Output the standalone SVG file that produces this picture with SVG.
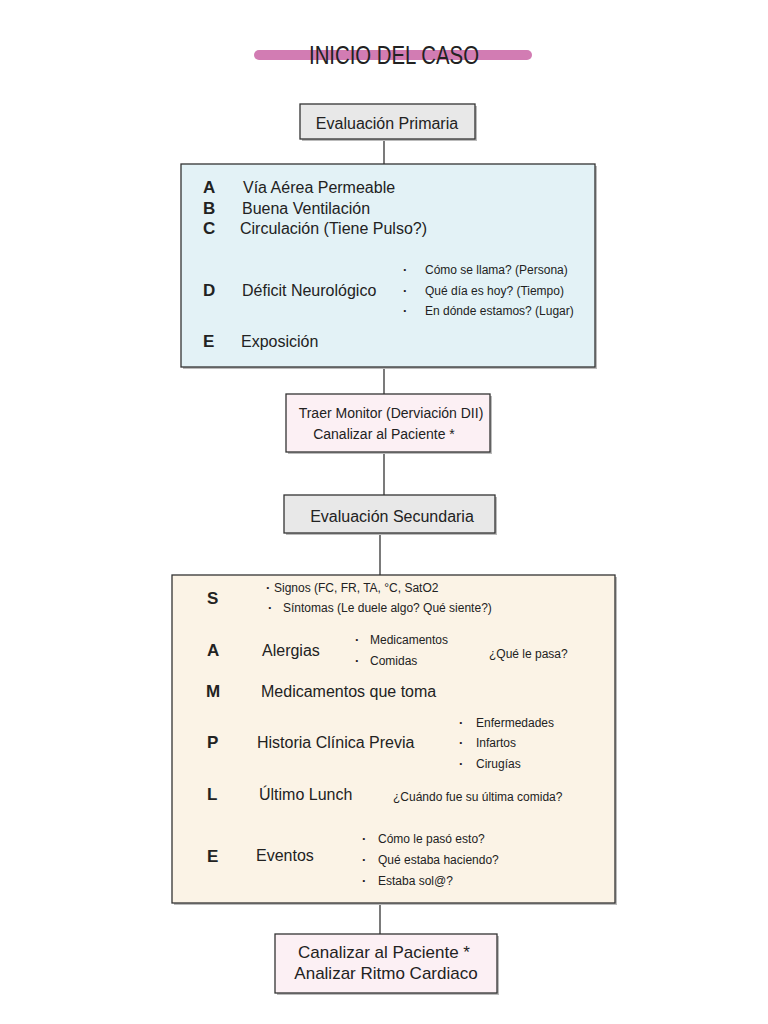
<svg xmlns="http://www.w3.org/2000/svg" width="768" height="1024" viewBox="0 0 768 1024">
<style>
text{font-family:"Liberation Sans","DejaVu Sans",sans-serif;fill:#222;}
.box{stroke:#333;stroke-width:1.3;}
.gray{fill:#E8E8E8;}
.blue{fill:#E3F2F6;}
.pink{fill:#FCF0F4;}
.cream{fill:#FBF3E6;}
.shadow{fill:#bbb;}
.lbl{font-size:16px;}
.ltr{font-size:17px;font-weight:bold;}
.sm{font-size:12px;}
.bul{font-size:13px;font-weight:bold;}
.mid{font-size:14px;}
.big{font-size:17px;}
.conn{stroke:#333;stroke-width:1.3;fill:none;}
</style>
<rect width="768" height="1024" fill="#fff"/>
<g id="title">
<line x1="259" y1="55" x2="527" y2="55" stroke="#D27CB3" stroke-width="10" stroke-linecap="round"/>
<text x="394" y="64" font-size="26" text-anchor="middle" textLength="170" lengthAdjust="spacingAndGlyphs">INICIO DEL CASO</text>
</g>
<g id="connectors">
<line class="conn" x1="384" y1="139" x2="384" y2="164"/>
<line class="conn" x1="384" y1="367" x2="384" y2="394"/>
<line class="conn" x1="384" y1="452" x2="384" y2="495"/>
<line class="conn" x1="380" y1="533" x2="380" y2="575"/>
<line class="conn" x1="380" y1="903" x2="380" y2="934"/>
</g>
<g id="eval-primaria">
<rect class="shadow" x="302" y="106" width="175" height="35"/>
<rect class="box gray" x="300" y="104" width="175" height="35"/>
<text class="lbl" x="387" y="129" text-anchor="middle">Evaluación Primaria</text>
</g>
<g id="abcde">
<rect class="shadow" x="183" y="166" width="414" height="203"/>
<rect class="box blue" x="181" y="164" width="414" height="203"/>
<text class="ltr" x="203" y="193">A</text>
<text class="ltr" x="203" y="214">B</text>
<text class="ltr" x="203" y="234">C</text>
<text class="ltr" x="203" y="296">D</text>
<text class="ltr" x="203" y="347">E</text>
<text class="lbl" x="243" y="193">Vía Aérea Permeable</text>
<text class="lbl" x="242" y="214">Buena Ventilación</text>
<text class="lbl" x="240" y="234">Circulación (Tiene Pulso?)</text>
<text class="lbl" x="242" y="296">Déficit Neurológico</text>
<text class="lbl" x="241" y="347">Exposición</text>
<text class="bul" x="403" y="274">·</text>
<text class="bul" x="403" y="295">·</text>
<text class="bul" x="403" y="315">·</text>
<text class="sm" x="425" y="274">Cómo se llama? (Persona)</text>
<text class="sm" x="425" y="295">Qué día es hoy? (Tiempo)</text>
<text class="sm" x="425" y="315">En dónde estamos? (Lugar)</text>
</g>
<g id="monitor">
<rect class="shadow" x="288" y="396" width="204" height="58"/>
<rect class="box pink" x="286" y="394" width="204" height="58"/>
<text class="mid" x="391" y="418" text-anchor="middle">Traer Monitor (Derviación DII)</text>
<text class="mid" x="384" y="439" text-anchor="middle">Canalizar al Paciente *</text>
</g>
<g id="eval-secundaria">
<rect class="shadow" x="286" y="497" width="211" height="38"/>
<rect class="box gray" x="284" y="495" width="211" height="38"/>
<text class="lbl" x="392" y="522" text-anchor="middle">Evaluación Secundaria</text>
</g>
<g id="sample">
<rect class="shadow" x="174" y="577" width="443" height="328"/>
<rect class="box cream" x="172" y="575" width="443" height="328"/>
<text class="ltr" x="207" y="604">S</text>
<text class="ltr" x="207" y="656">A</text>
<text class="ltr" x="206" y="697">M</text>
<text class="ltr" x="207" y="748">P</text>
<text class="ltr" x="207" y="800">L</text>
<text class="ltr" x="207" y="862">E</text>
<text class="bul" x="266" y="592">·</text>
<text class="sm" x="274" y="592">Signos (FC, FR, TA, °C, SatO2</text>
<text class="bul" x="268" y="612">·</text>
<text class="sm" x="283" y="612">Síntomas (Le duele algo? Qué siente?)</text>
<text class="lbl" x="262" y="656">Alergias</text>
<text class="bul" x="355" y="644">·</text>
<text class="bul" x="355" y="665">·</text>
<text class="sm" x="370" y="644">Medicamentos</text>
<text class="sm" x="370" y="665">Comidas</text>
<text class="sm" x="489" y="658">¿Qué le pasa?</text>
<text class="lbl" x="261" y="697">Medicamentos que toma</text>
<text class="lbl" x="257" y="748">Historia Clínica Previa</text>
<text class="bul" x="459" y="727">·</text>
<text class="bul" x="459" y="747">·</text>
<text class="bul" x="459" y="768">·</text>
<text class="sm" x="476" y="727">Enfermedades</text>
<text class="sm" x="476" y="747">Infartos</text>
<text class="sm" x="476" y="768">Cirugías</text>
<text class="lbl" x="259" y="800">Último Lunch</text>
<text class="sm" x="393" y="801">¿Cuándo fue su última comida?</text>
<text class="lbl" x="256" y="861">Eventos</text>
<text class="bul" x="362" y="843">·</text>
<text class="bul" x="362" y="864">·</text>
<text class="bul" x="362" y="885">·</text>
<text class="sm" x="378" y="843">Cómo le pasó esto?</text>
<text class="sm" x="378" y="864">Qué estaba haciendo?</text>
<text class="sm" x="378" y="885">Estaba sol@?</text>
</g>
<g id="final">
<rect class="shadow" x="277" y="936" width="222" height="59"/>
<rect class="box pink" x="275" y="934" width="222" height="59"/>
<text class="big" x="384" y="958" text-anchor="middle">Canalizar al Paciente *</text>
<text class="big" x="386" y="979" text-anchor="middle">Analizar Ritmo Cardiaco</text>
</g>
</svg>
